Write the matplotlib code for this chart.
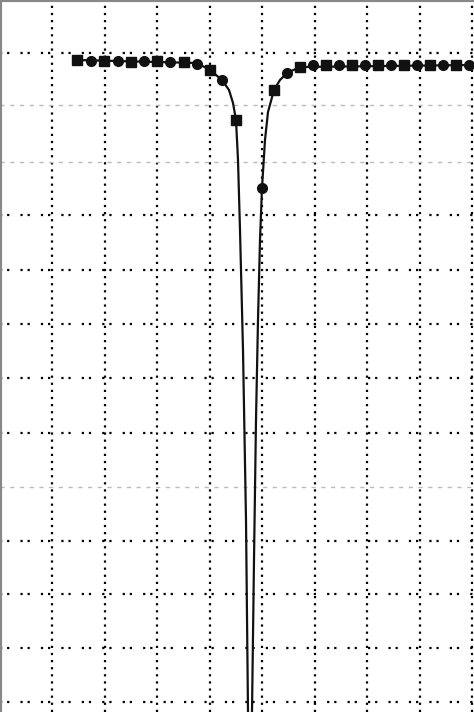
import matplotlib
matplotlib.use("Agg")
import matplotlib.pyplot as plt
import numpy as np

# marker points (pixel-like data units, y grows downward)
left_x = [77, 91, 104, 118, 131, 144, 157, 170, 184, 197, 210, 222, 236]
left_y = [60, 61, 61, 61, 62, 61, 61, 62, 62, 64, 70, 80, 120]
right_x = [262, 274, 287, 300, 313, 326, 339, 352, 365, 378, 391, 404, 417, 430, 443, 456, 469]
right_y = [188, 90, 73, 67, 65, 65, 65, 65, 65, 65, 65, 65, 65, 65, 65, 65, 65]
# curve through the dip
curve_x = [77, 197, 210, 222, 229, 233, 236, 238, 240, 243, 246, 248, 250, 252, 254, 256, 258, 260, 262, 265, 268, 274, 280, 287, 300, 472]
curve_y = [60, 63, 70, 80, 90, 103, 120, 160, 230, 350, 520, 712, 720, 712, 560, 420, 320, 240, 188, 140, 112, 90, 80, 73, 67, 65]
vgrid = [52, 105, 157, 210, 262, 315, 367, 420, 472]
hgrid_major = [53, 215, 270, 324, 378, 433, 541, 594, 648, 702]
hgrid_minor = [105, 162, 487]

fig = plt.figure(figsize=(4.74, 7.12), dpi=100)
ax = fig.add_axes([0, 0, 1, 1])
ax.set_xlim(0, 474)
ax.set_ylim(712, 0)
for v in vgrid:
    ax.axvline(v, color="black", lw=1.6, ls=(0, (1, 2.2)), zorder=1)
for h in hgrid_major:
    ax.axhline(h, color="black", lw=1.6, ls=(0, (1, 2.2, 1, 5)), zorder=1)
for h in hgrid_minor:
    ax.axhline(h, color="#bbbbbb", lw=1, ls=(0, (3, 4)), zorder=1)

ax.plot(curve_x, curve_y, color="#111111", lw=1.6, zorder=2)
xs = left_x + right_x
ys = left_y + right_y
for i, (x, y) in enumerate(zip(xs, ys)):
    ax.plot(x, y, marker="s" if i % 2 == 0 else "o", ms=7, color="#111111", zorder=3)

for s in ["top", "left"]:
    ax.spines[s].set_color("#888888")
    ax.spines[s].set_linewidth(3)
for s in ["bottom", "right"]:
    ax.spines[s].set_visible(False)
ax.set_xticks([]); ax.set_yticks([])
fig.savefig("out.png", dpi=100)
